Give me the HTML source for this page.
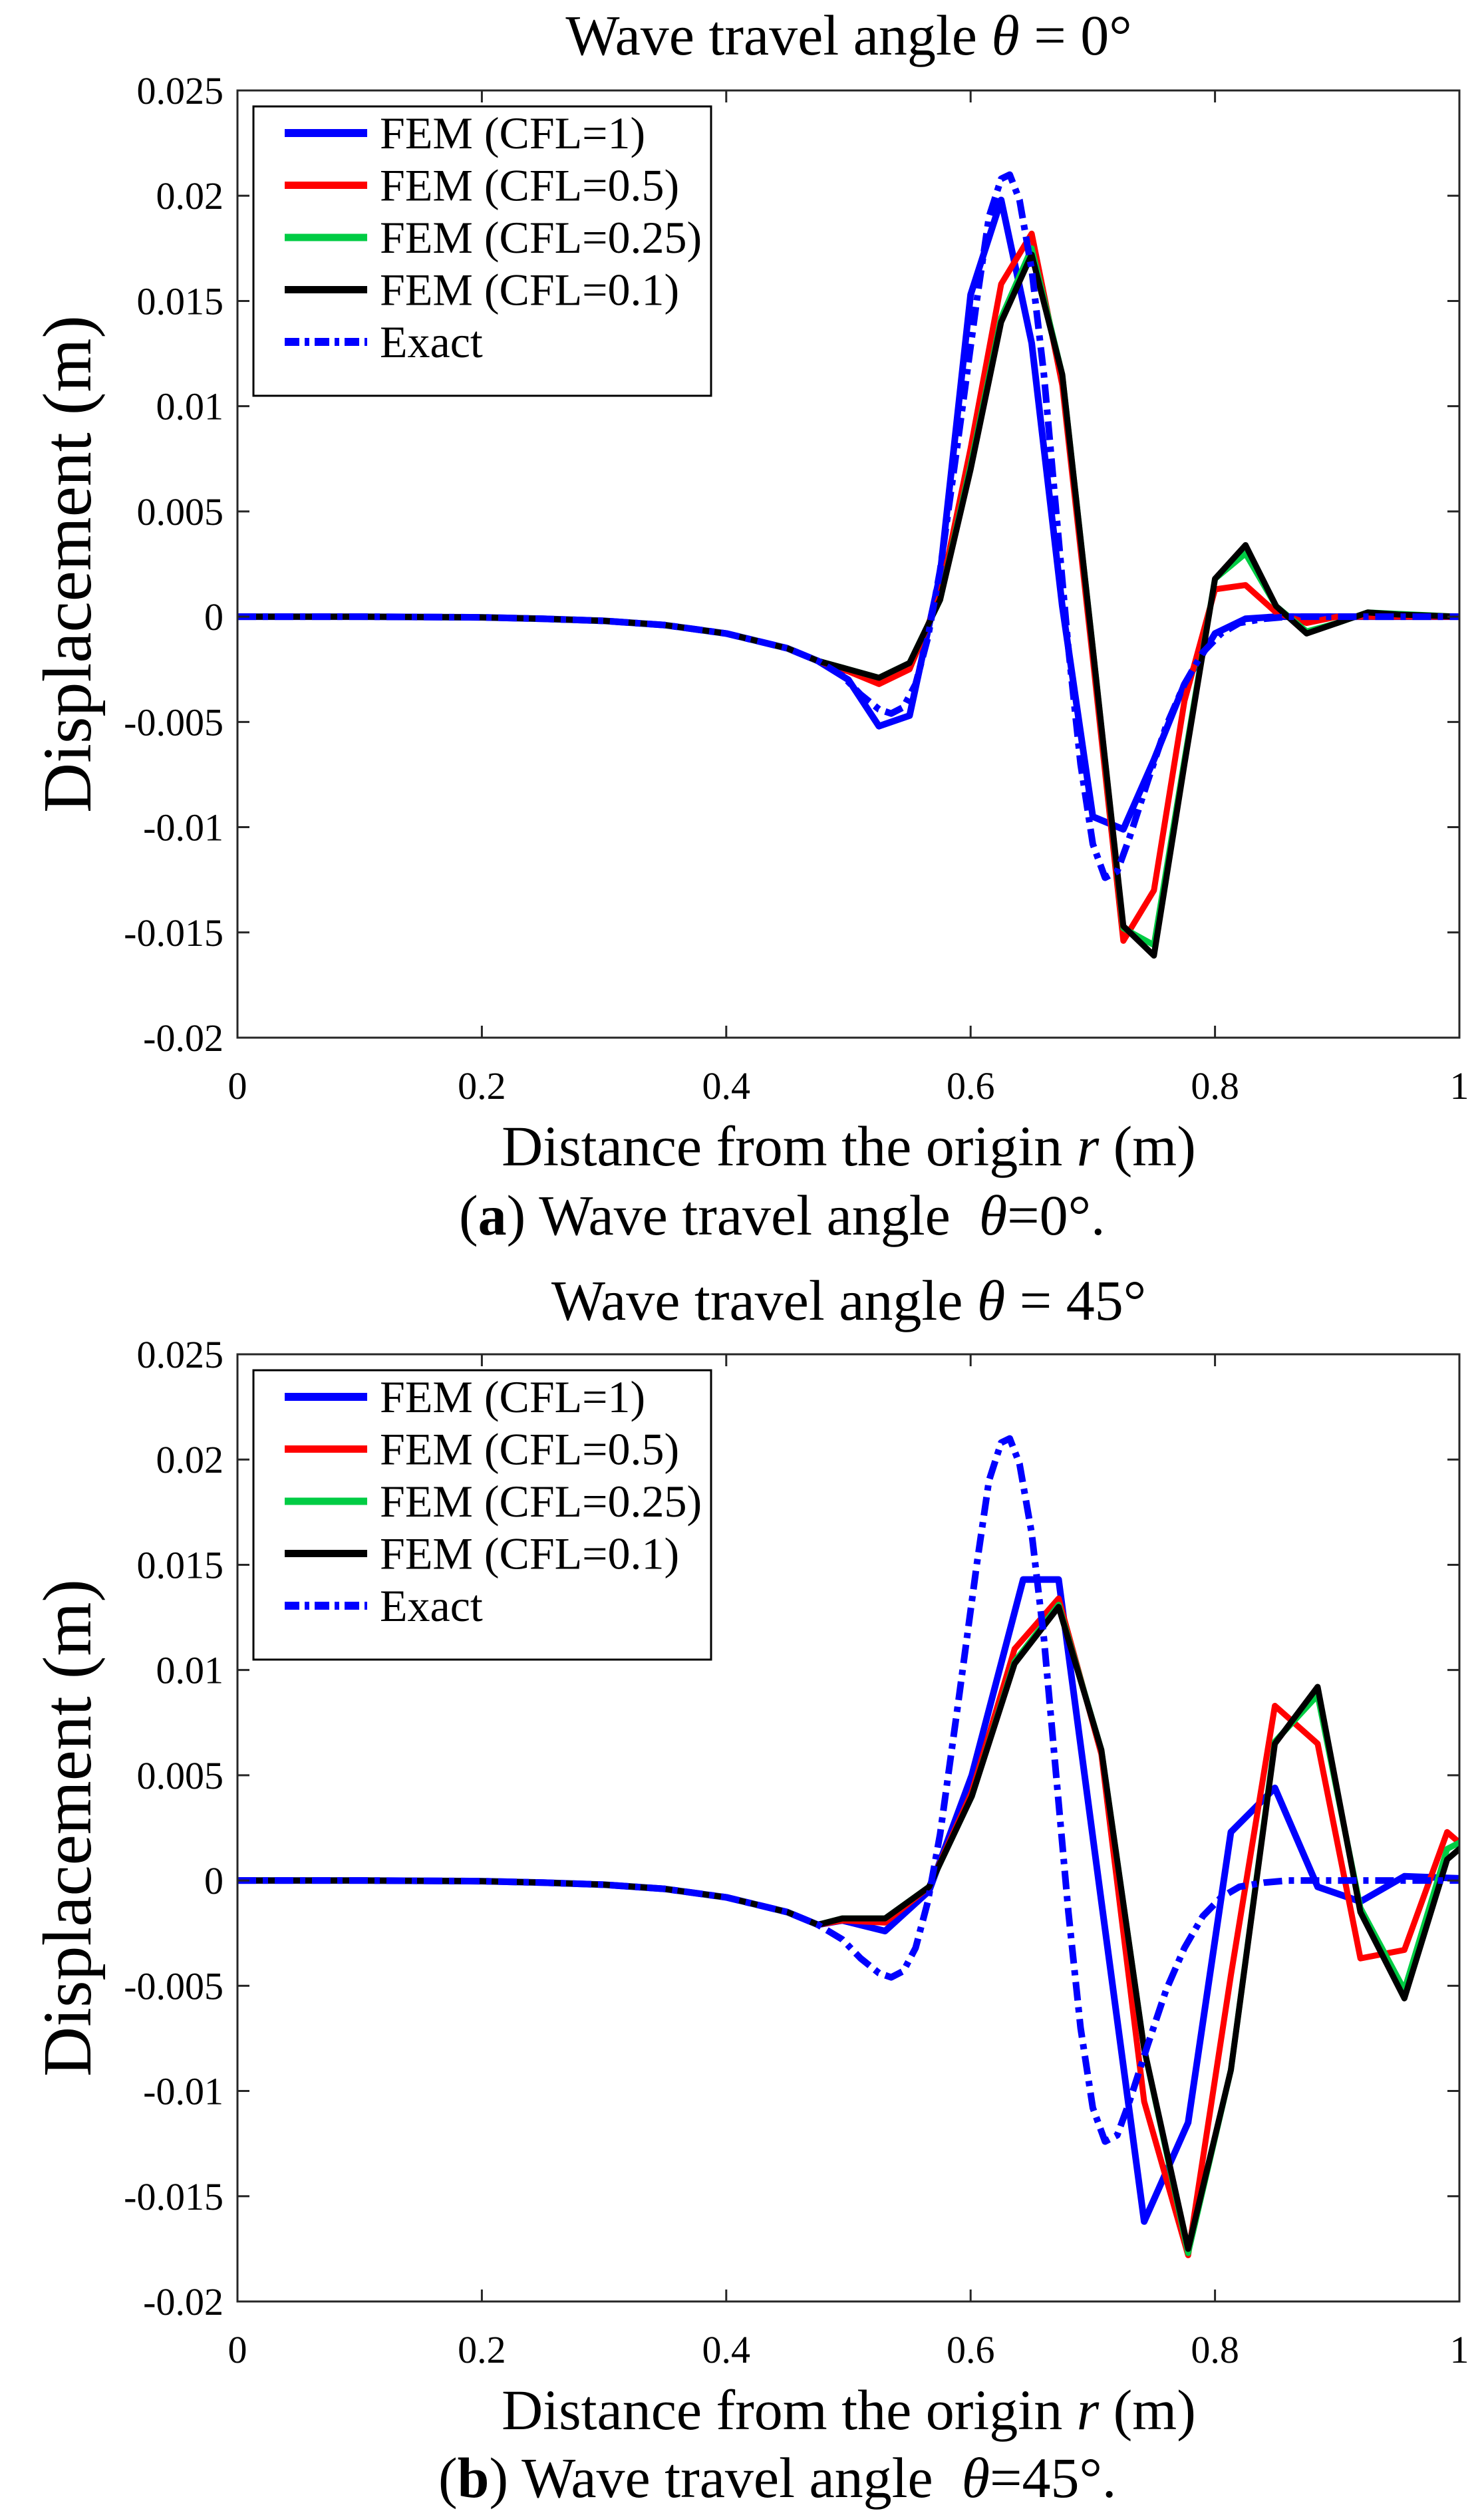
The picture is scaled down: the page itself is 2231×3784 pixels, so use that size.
<!DOCTYPE html>
<html><head><meta charset="utf-8"><style>
html,body{margin:0;padding:0;background:#fff;}
svg{display:block;}
text{font-family:"Liberation Serif",serif;fill:#000;white-space:pre;}
</style></head><body>
<svg id="s" width="2231" height="3784" viewBox="0 0 2231 3784" xmlns="http://www.w3.org/2000/svg">
<rect width="2231" height="3784" fill="#fff"/>
<g id="p1"></g>
<g id="p2"></g>
<text x="1276" y="82" font-size="86" text-anchor="middle">Wave travel angle <tspan font-style="italic">θ</tspan> = 0°</text>
<text x="1276" y="1984" font-size="86" text-anchor="middle">Wave travel angle <tspan font-style="italic">θ</tspan> = 45°</text>
<text x="1276" y="1752" font-size="86" text-anchor="middle">Distance from the origin <tspan font-style="italic">r</tspan> (m)</text>
<text x="1276" y="3652" font-size="86" text-anchor="middle">Distance from the origin <tspan font-style="italic">r</tspan> (m)</text>
<text x="690" y="1856" font-size="86">(<tspan font-weight="bold">a</tspan>) Wave travel angle  <tspan font-style="italic">θ</tspan>=0°.</text>
<text x="659" y="3754" font-size="86">(<tspan font-weight="bold">b</tspan>) Wave travel angle  <tspan font-style="italic">θ</tspan>=45°.</text>
<text transform="translate(136,848) rotate(-90)" font-size="104" text-anchor="middle">Displacement (m)</text>
<text transform="translate(136,2748) rotate(-90)" font-size="104" text-anchor="middle">Displacement (m)</text>
</svg>
<script>
(function(){
var NS="http://www.w3.org/2000/svg";
function el(p,n,a,t){var e=document.createElementNS(NS,n);for(var k in a)e.setAttribute(k,a[k]);if(t!=null)e.textContent=t;p.appendChild(e);return e;}
var X0=357,X1=2194,W=X1-X0,H=1424;
var base=[[0,0],[0.1,0],[0.2,-0.00003],[0.25,-0.0001],[0.3,-0.0002],[0.35,-0.0004],[0.4,-0.0008],[0.45,-0.0015],[0.475,-0.0021]];
var exact=[[0.495,-0.0028],[0.51,-0.0037],[0.525,-0.0044],[0.535,-0.0046],[0.545,-0.0043],[0.555,-0.0032],[0.565,-0.001],[0.575,0.0022],[0.59,0.0085],[0.605,0.015],[0.615,0.019],[0.625,0.0208],[0.632,0.021],[0.64,0.0198],[0.65,0.0165],[0.66,0.0115],[0.67,0.005],[0.68,-0.0015],[0.69,-0.007],[0.7,-0.0108],[0.71,-0.0124],[0.72,-0.0121],[0.73,-0.0105],[0.745,-0.0078],[0.76,-0.0052],[0.775,-0.0032],[0.79,-0.0017],[0.805,-0.0008],[0.82,-0.0003],[0.84,-0.0001],[0.86,0],[1,0]];
function B(a){return base.concat(a);}
var serTop=[
 ["#0000ff",10,null,B([[0.5,-0.003],[0.525,-0.0052],[0.55,-0.0047],[0.575,0.002],[0.6,0.0153],[0.625,0.0198],[0.65,0.013],[0.675,0.0005],[0.7,-0.0095],[0.725,-0.0101],[0.75,-0.0068],[0.775,-0.0032],[0.8,-0.0008],[0.825,-0.0001],[0.85,0],[1,0]])],
 ["#ff0000",9,null,B([[0.5,-0.0026],[0.525,-0.0032],[0.55,-0.0025],[0.575,0.001],[0.6,0.008],[0.625,0.0158],[0.65,0.0182],[0.675,0.011],[0.7,-0.002],[0.725,-0.0154],[0.75,-0.013],[0.775,-0.004],[0.8,0.0013],[0.825,0.0015],[0.85,0.0002],[0.875,-0.0003],[0.9,0],[1,0]])],
 ["#00cc44",9,null,B([[0.5,-0.0025],[0.525,-0.0029],[0.55,-0.0022],[0.575,0.0008],[0.6,0.0072],[0.625,0.0142],[0.65,0.0175],[0.675,0.0115],[0.7,-0.0015],[0.725,-0.0148],[0.75,-0.0156],[0.775,-0.0068],[0.8,0.0018],[0.825,0.003],[0.85,0.0005],[0.875,-0.0007],[0.9,-0.0003],[0.925,0.0002],[1,0]])],
 ["#000000",9,null,B([[0.5,-0.0025],[0.525,-0.0029],[0.55,-0.0022],[0.575,0.0008],[0.6,0.007],[0.625,0.014],[0.65,0.0172],[0.675,0.0115],[0.7,-0.0015],[0.725,-0.0147],[0.75,-0.0161],[0.775,-0.007],[0.8,0.0018],[0.825,0.0034],[0.85,0.0005],[0.875,-0.0008],[0.9,-0.0003],[0.925,0.0002],[0.95,0.0001],[1,0]])],
 ["#0000ff",10,"28,10,8,10",B(exact)]
];
var serBot=[
 ["#0000ff",10,null,B([[0.495,-0.0019],[0.53,-0.0024],[0.566,-0.0005],[0.601,0.005],[0.643,0.0143],[0.672,0.0143],[0.707,-0.001],[0.742,-0.0162],[0.778,-0.0115],[0.813,0.0023],[0.849,0.0044],[0.884,-0.0003],[0.919,-0.001],[0.955,0.0002],[1,0.0001]])],
 ["#ff0000",9,null,B([[0.495,-0.0019],[0.53,-0.002],[0.566,-0.0003],[0.601,0.0042],[0.636,0.011],[0.672,0.0134],[0.707,0.006],[0.742,-0.0105],[0.778,-0.0178],[0.813,-0.0045],[0.849,0.0083],[0.884,0.0065],[0.919,-0.0037],[0.955,-0.0033],[0.99,0.0023],[1,0.0018]])],
 ["#00cc44",9,null,B([[0.495,-0.0018],[0.53,-0.0018],[0.566,-0.0003],[0.601,0.004],[0.636,0.0104],[0.672,0.0131],[0.707,0.0062],[0.742,-0.008],[0.778,-0.0177],[0.813,-0.009],[0.849,0.0066],[0.884,0.0088],[0.919,-0.0013],[0.955,-0.0052],[0.99,0.0015],[1,0.0018]])],
 ["#000000",9,null,B([[0.495,-0.0018],[0.53,-0.0018],[0.566,-0.0003],[0.601,0.004],[0.636,0.0103],[0.672,0.013],[0.707,0.0062],[0.742,-0.008],[0.778,-0.0175],[0.813,-0.009],[0.849,0.0065],[0.884,0.0092],[0.919,-0.0015],[0.955,-0.0056],[0.99,0.001],[1,0.0015]])],
 ["#0000ff",10,"28,10,8,10",B(exact)]
];
var names=["FEM (CFL=1)","FEM (CFL=0.5)","FEM (CFL=0.25)","FEM (CFL=0.1)","Exact"];
function plot(g,Y0,series){
  function px(r){return X0+r*W;} function py(v){return Y0+(0.025-v)/0.045*H;}
  var clip="c"+Y0; var d=el(g,"defs",{}); var cp=el(d,"clipPath",{id:clip}); el(cp,"rect",{x:X0,y:Y0,width:W,height:H});
  var gc=el(g,"g",{"clip-path":"url(#"+clip+")"});
  series.forEach(function(s){
    var p=s[3].map(function(q,i){return (i?"L":"M")+px(q[0]).toFixed(1)+","+py(q[1]).toFixed(1);}).join("");
    var a={d:p,fill:"none",stroke:s[0],"stroke-width":s[1],"stroke-linejoin":"round","stroke-linecap":"round"};
    if(s[2]){a["stroke-dasharray"]=s[2];a["stroke-linecap"]="butt";}
    el(gc,"path",a);
  });
  var labs=["0.025","0.02","0.015","0.01","0.005","0","-0.005","-0.01","-0.015","-0.02"];
  for(var i=0;i<=9;i++){var y=py(0.025-i*0.005);
    el(g,"line",{x1:X0,x2:X0+18,y1:y,y2:y,stroke:"#262626","stroke-width":3});
    el(g,"line",{x1:X1-18,x2:X1,y1:y,y2:y,stroke:"#262626","stroke-width":3});
    el(g,"text",{x:336,y:y+20,"font-size":58,"text-anchor":"end",fill:"#262626"},labs[i]);}
  var xl=["0","0.2","0.4","0.6","0.8","1"];
  for(var j=0;j<=5;j++){var x=px(j*0.2);
    el(g,"line",{x1:x,x2:x,y1:Y0,y2:Y0+18,stroke:"#262626","stroke-width":3});
    el(g,"line",{x1:x,x2:x,y1:Y0+H-18,y2:Y0+H,stroke:"#262626","stroke-width":3});
    el(g,"text",{x:x,y:Y0+H+92,"font-size":58,"text-anchor":"middle",fill:"#262626"},xl[j]);}
  el(g,"rect",{x:X0,y:Y0,width:W,height:H,fill:"none",stroke:"#262626","stroke-width":3});
  var L=Y0+24;
  el(g,"rect",{x:381,y:L,width:688,height:435,fill:"#fff",stroke:"#000","stroke-width":3});
  for(var k=0;k<5;k++){var yy=L+40+k*78.5,s=series[k];
    var a={x1:428,x2:552,y1:yy,y2:yy,stroke:s[0],"stroke-width":s[1]+2};
    if(s[2])a["stroke-dasharray"]="22,8,7,8";
    el(g,"line",a);
    el(g,"text",{x:571,y:yy+23,"font-size":68},names[k]);}
}
plot(document.getElementById("p1"),136,serTop);
plot(document.getElementById("p2"),2036,serBot);
})();
</script>
</body></html>
